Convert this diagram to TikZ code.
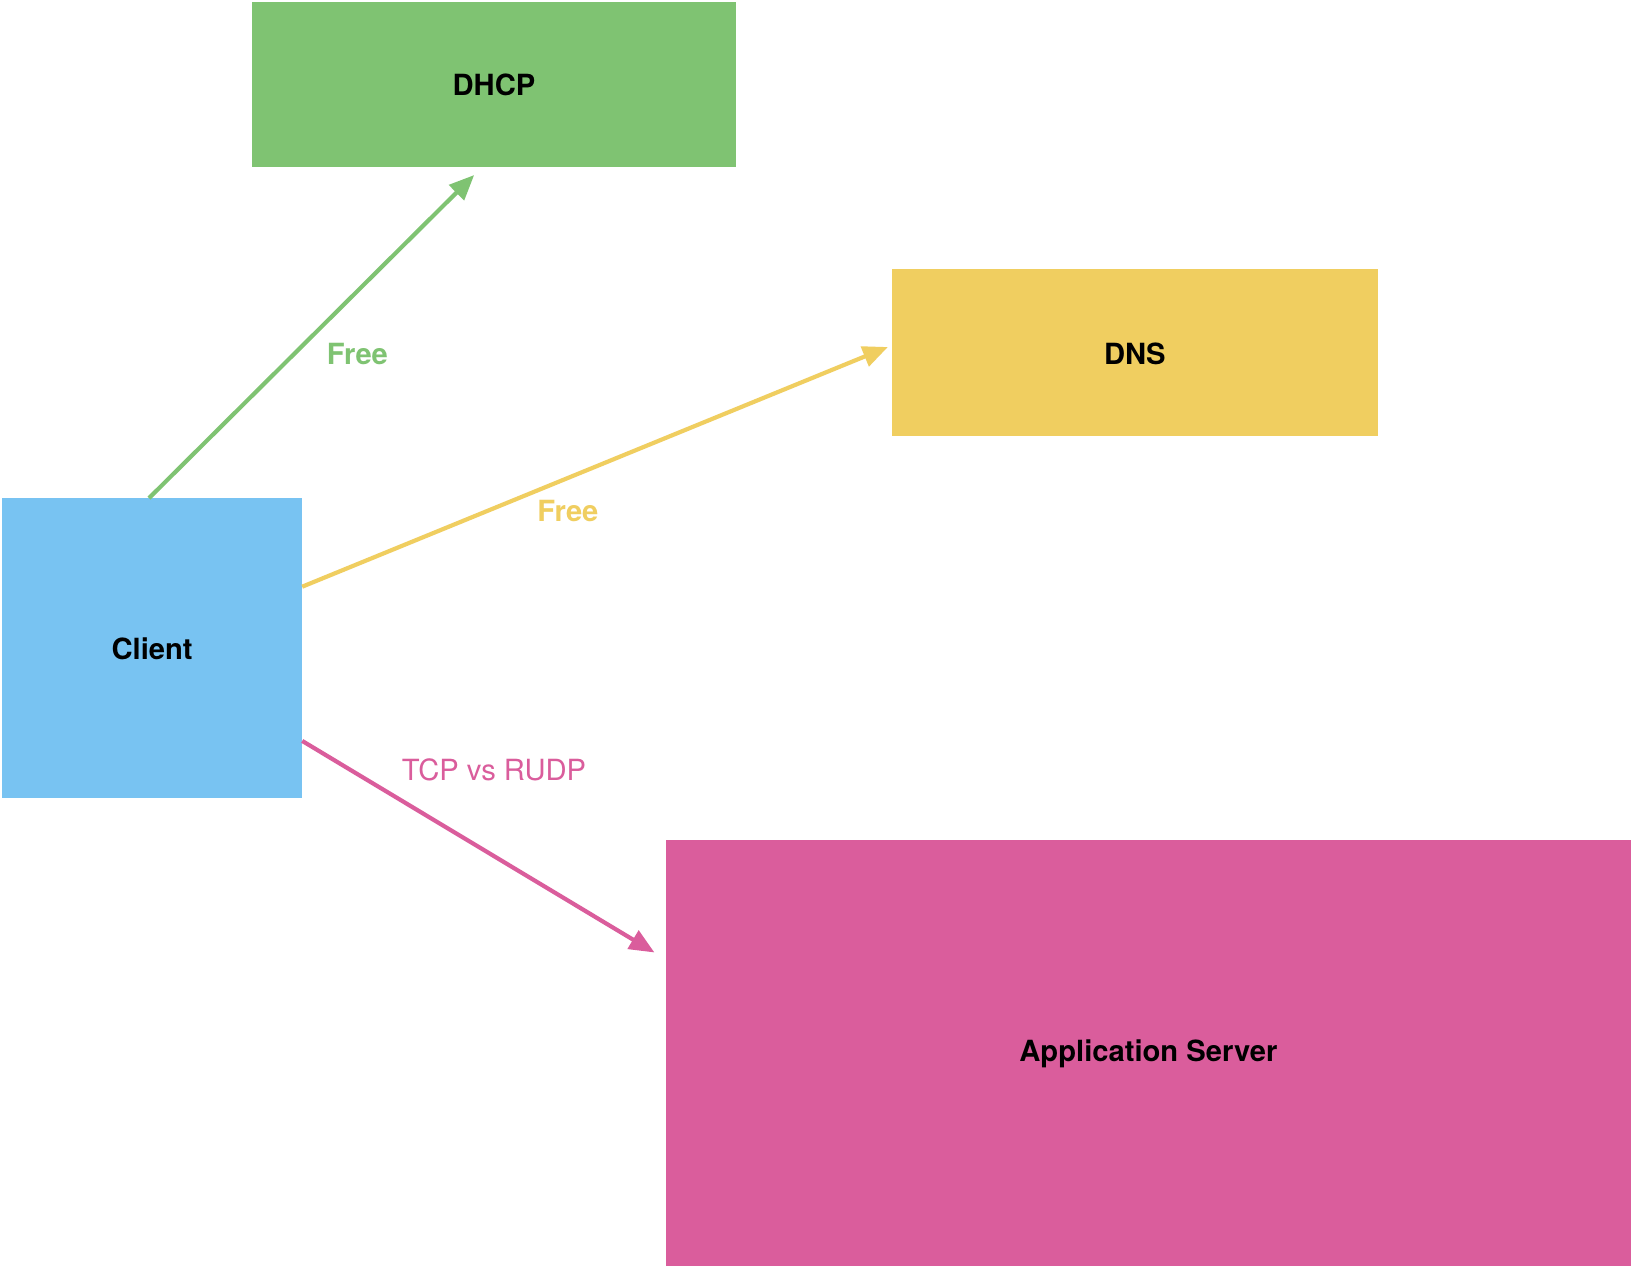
\documentclass[tikz,border=0pt]{standalone}
\usepackage{fontspec}
\setmainfont{TeX Gyre Heros}
\usetikzlibrary{arrows.meta}
\definecolor{cg}{HTML}{7FC372}
\definecolor{cy}{HTML}{F0CE60}
\definecolor{cb}{HTML}{78C3F2}
\definecolor{cp}{HTML}{DA5D9C}
\begin{document}
\begin{tikzpicture}[x=1pt,y=-1pt,
  box/.style={draw=none,inner sep=0pt,font=\fontsize{28}{32}\selectfont\bfseries},
  arr/.style={line width=4pt,-{Triangle[length=24pt,width=20pt]}},
  lab/.style={font=\fontsize{28}{32}\selectfont}]
\useasboundingbox (0,0) rectangle (1568,1217);
\fill[white] (0,0) rectangle (1568,1217);
\fill[cg] (242,2) rectangle (706,160);
\node[box] (dhcp) at (474,81) {DHCP};
\fill[cy] (856,258) rectangle (1322,418);
\node[box] (dns) at (1089,340) {DNS};
\fill[cb] (2,478) rectangle (290,766);
\node[box] (client) at (146,623) {Client};
\fill[cp] (639,806) rectangle (1565,1215);
\node[box] (app) at (1102,1011) {Application Server};
\coordinate (g1) at (143,478); \coordinate (g2) at (455,168);
\coordinate (y1) at (290,563); \coordinate (y2) at (852,333);
\coordinate (p1) at (290,711); \coordinate (p2) at (628,914);
\draw[arr,cg] (g1) -- (g2);
\draw[arr,cy] (y1) -- (y2);
\draw[arr,cp] (p1) -- (p2);
\node[lab,cg,font=\fontsize{28}{32}\selectfont\bfseries] (l1) at (343,340) {Free};
\node[lab,cy,font=\fontsize{28}{32}\selectfont\bfseries] (l2) at (545,490) {Free};
\node[lab,cp] (l3) at (474,739) {TCP vs RUDP};
\end{tikzpicture}
\end{document}
